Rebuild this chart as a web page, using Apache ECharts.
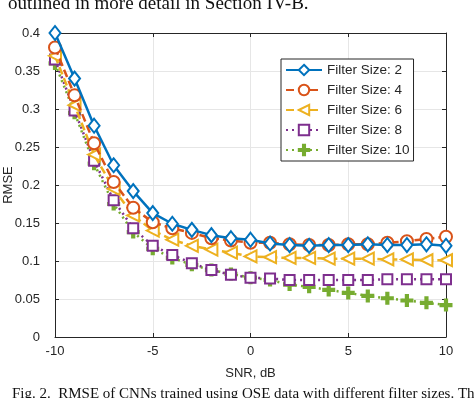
<!DOCTYPE html>
<html>
<head>
<meta charset="utf-8">
<script src="https://cdn.jsdelivr.net/npm/echarts@6/dist/echarts.min.js"></script>
<style>
  html, body { margin: 0; padding: 0; background: #fff; }
  #main { width: 474px; height: 398px; }
</style>
</head>
<body>
<div id="main"></div>
<script>
// SNR values (dB)
var snr = [-10, -9, -8, -7, -6, -5, -4, -3, -2, -1, 0, 1, 2, 3, 4, 5, 6, 7, 8, 9, 10];

// RMSE per filter size
var fs2  = [0.400, 0.340, 0.278, 0.226, 0.192, 0.163, 0.149, 0.141, 0.134, 0.130, 0.128, 0.123, 0.121, 0.120, 0.121, 0.121, 0.122, 0.121, 0.121, 0.122, 0.120];
var fs4  = [0.381, 0.318, 0.255, 0.204, 0.170, 0.151, 0.143, 0.137, 0.130, 0.127, 0.124, 0.124, 0.122, 0.121, 0.121, 0.122, 0.122, 0.124, 0.126, 0.129, 0.132];
var fs6  = [0.370, 0.305, 0.240, 0.195, 0.160, 0.140, 0.128, 0.120, 0.115, 0.111, 0.106, 0.105, 0.104, 0.104, 0.103, 0.103, 0.103, 0.102, 0.102, 0.101, 0.101];
var fs8  = [0.365, 0.298, 0.232, 0.180, 0.143, 0.120, 0.108, 0.097, 0.088, 0.082, 0.078, 0.077, 0.075, 0.075, 0.075, 0.075, 0.075, 0.076, 0.076, 0.076, 0.076];
var fs10 = [0.360, 0.295, 0.228, 0.175, 0.138, 0.116, 0.104, 0.095, 0.088, 0.083, 0.078, 0.075, 0.069, 0.066, 0.062, 0.058, 0.054, 0.051, 0.048, 0.045, 0.042];

var names = ['Filter Size: 2', 'Filter Size: 4', 'Filter Size: 6', 'Filter Size: 8', 'Filter Size: 10'];
var colors = ['#0072BD', '#D95319', '#EDB120', '#7E2F8E', '#77AC30'];

var plusPath = 'path://M4,0H6V4H10V6H6V10H4V6H0V4H4Z';

function pairs(ys) {
    return snr.map(function (x, i) { return [x, ys[i]]; });
}

function mkSeries(i, ys, symbol, size, lineType, rot) {
    return {
        name: names[i],
        type: 'line',
        data: pairs(ys),
        symbol: symbol,
        symbolSize: size,
        symbolRotate: rot || 0,
        showAllSymbol: true,
        lineStyle: { color: colors[i], width: 2.5, type: lineType },
        itemStyle: { color: colors[i], borderColor: colors[i], borderWidth: 2 },
        emphasis: { disabled: true },
        animation: false,
        z: 10 - i
    };
}

var axisFont = { color: '#262626', fontSize: 13, fontFamily: 'Liberation Sans' };

var myChart = echarts.init(document.getElementById('main'));
var option = {
    backgroundColor: '#fff',
    animation: false,
    grid: { left: 55, right: 28, top: 33, bottom: 61, outerBoundsMode: 'none', containLabel: false },
    graphic: [
        {
            type: 'text', left: 8, top: -5,
            style: { text: 'outlined in more detail in Section IV-B.', font: '19px "Liberation Serif"', fill: '#111' }
        },
        {
            type: 'text', left: 12, top: 387,
            style: { text: 'Fig. 2.  RMSE of CNNs trained using OSE data with different filter sizes. The', font: '15px "Liberation Serif"', fill: '#111' }
        }
    ],
    legend: {
        data: names,
        orient: 'vertical',
        left: 281,
        top: 59,
        padding: [4, 4, 4, 4],
        itemGap: 6,
        itemWidth: 36,
        itemHeight: 13,
        backgroundColor: '#fff',
        borderColor: '#262626',
        borderWidth: 1,
        borderRadius: 0,
        textStyle: { color: '#262626', fontSize: 13.5, fontFamily: 'Liberation Sans' }
    },
    xAxis: [
        {
            type: 'value', min: -10, max: 10, interval: 5,
            name: 'SNR, dB', nameLocation: 'middle', nameGap: 30, nameMoveOverlap: false,
            nameTextStyle: axisFont,
            axisLine: { onZero: false, lineStyle: { color: '#262626', width: 1 } },
            axisTick: { inside: true, length: 4, lineStyle: { color: '#262626' } },
            axisLabel: Object.assign({ margin: 8 }, axisFont),
            splitLine: { show: true, lineStyle: { color: '#e6e6e6', width: 1 } }
        },
        {
            type: 'value', min: -10, max: 10, interval: 5, position: 'top',
            axisLine: { show: true, onZero: false, lineStyle: { color: '#262626', width: 1 } },
            axisTick: { show: true, inside: true, length: 4, lineStyle: { color: '#262626' } },
            axisLabel: { show: false },
            splitLine: { show: false }
        }
    ],
    yAxis: [
        {
            type: 'value', min: 0, max: 0.4, interval: 0.05,
            name: 'RMSE', nameLocation: 'middle', nameGap: 40, nameMoveOverlap: false,
            nameTextStyle: axisFont,
            axisLine: { show: true, onZero: false, lineStyle: { color: '#262626', width: 1 } },
            axisTick: { show: true, inside: true, length: 4, lineStyle: { color: '#262626' } },
            axisLabel: Object.assign({ margin: 15 }, axisFont),
            splitLine: { show: true, lineStyle: { color: '#e6e6e6', width: 1 } }
        },
        {
            type: 'value', min: 0, max: 0.4, interval: 0.05, position: 'right',
            axisLine: { show: true, onZero: false, lineStyle: { color: '#262626', width: 1 } },
            axisTick: { show: true, inside: true, length: 4, lineStyle: { color: '#262626' } },
            axisLabel: { show: false },
            splitLine: { show: false }
        }
    ],
    series: [
        mkSeries(0, fs2, 'emptyDiamond', [11, 14], 'solid'),
        mkSeries(1, fs4, 'emptyCircle', 12, [8, 4]),
        mkSeries(2, fs6, 'emptyTriangle', 12, [8, 4], 90),
        mkSeries(3, fs8, 'emptyRect', 10, [2, 4]),
        mkSeries(4, fs10, plusPath, 11, [2, 4])
    ]
};

myChart.setOption(option);
</script>
</body>
</html>
